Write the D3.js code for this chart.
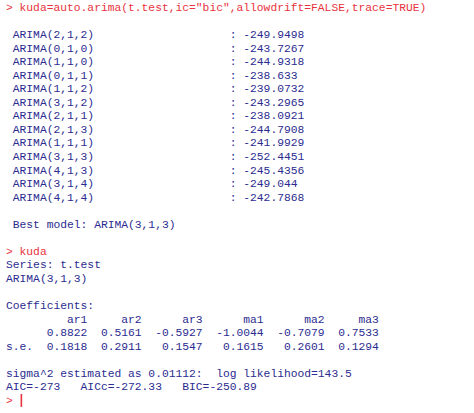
<!DOCTYPE html>
<html>
<head>
<meta charset="utf-8">
<script src="https://cdn.jsdelivr.net/npm/d3@7"></script>
<style>
  body { margin: 0; background: #fff; }
</style>
</head>
<body>
<div id="console"></div>
<script>
const width = 474;
const height = 413;

// trace output of auto.arima
const models = ["ARIMA(2,1,2)", "ARIMA(0,1,0)", "ARIMA(1,1,0)", "ARIMA(0,1,1)", "ARIMA(1,1,2)",
  "ARIMA(3,1,2)", "ARIMA(2,1,1)", "ARIMA(2,1,3)", "ARIMA(1,1,1)", "ARIMA(3,1,3)",
  "ARIMA(4,1,3)", "ARIMA(3,1,4)", "ARIMA(4,1,4)"];
const bicValues = ["-249.9498", "-243.7267", "-244.9318", "-238.633", "-239.0732",
  "-243.2965", "-238.0921", "-244.7908", "-241.9929", "-252.4451",
  "-245.4356", "-249.044", "-242.7868"];

// coefficients table
const coefNames = ["ar1", "ar2", "ar3", "ma1", "ma2", "ma3"];
const coefValues = ["0.8822", "0.5161", "-0.5927", "-1.0044", "-0.7079", "0.7533"];
const seValues = ["0.1818", "0.2911", "0.1547", "0.1615", "0.2601", "0.1294"];

const red = "#e8323c";
const blue = "#2b2b8f";

const fontSize = 11.3;
const charW = fontSize * 0.6;
const lineH = 13.55;
const marginLeft = 6;
const marginTop = 7;

const pad = (s, n) => s + " ".repeat(Math.max(0, n - s.length));
const lpad = (s, n) => " ".repeat(Math.max(0, n - s.length)) + s;

// build console lines
const lines = [];
lines.push({ t: '> kuda=auto.arima(t.test,ic="bic",allowdrift=FALSE,trace=TRUE)', c: red });
lines.push({ t: "" });
models.forEach((m, i) => lines.push({ t: pad(" " + m, 33) + ": " + bicValues[i], c: blue }));
lines.push({ t: "" });
lines.push({ t: " Best model: ARIMA(3,1,3)", c: blue });
lines.push({ t: "" });
lines.push({ t: "> kuda", c: red });
lines.push({ t: "Series: t.test", c: blue });
lines.push({ t: "ARIMA(3,1,3)", c: blue });
lines.push({ t: "" });
lines.push({ t: "Coefficients:", c: blue });
const colW = coefNames.map((n, i) => Math.max(n.length, coefValues[i].length, seValues[i].length) + 2);
lines.push({ t: "    " + coefNames.map((n, i) => lpad(n, colW[i])).join(""), c: blue });
lines.push({ t: "    " + coefValues.map((n, i) => lpad(n, colW[i])).join(""), c: blue });
lines.push({ t: "s.e." + seValues.map((n, i) => lpad(n, colW[i])).join(""), c: blue });
lines.push({ t: "" });
lines.push({ t: "sigma^2 estimated as 0.01112:  log likelihood=143.5", c: blue });
lines.push({ t: "AIC=-273   AICc=-272.33   BIC=-250.89", c: blue });
lines.push({ t: "> ", c: red });

const svg = d3.select("#console")
  .append("svg")
  .attr("width", width)
  .attr("height", height);

svg.append("rect").attr("width", width).attr("height", height).attr("fill", "#fff");

const y = d3.scaleLinear().domain([0, 1]).range([marginTop, marginTop + lineH]);

svg.selectAll("text.line")
  .data(lines)
  .enter()
  .append("text")
  .attr("class", "line")
  .attr("x", marginLeft)
  .attr("y", (d, i) => y(i))
  .attr("dy", "0.35em")
  .attr("xml:space", "preserve")
  .style("white-space", "pre")
  .style("font-family", "'Liberation Mono', 'DejaVu Sans Mono', monospace")
  .style("font-size", fontSize + "px")
  .attr("fill", d => d.c || blue)
  .text(d => d.t);

// cursor on the prompt
const last = lines.length - 1;
svg.append("rect")
  .attr("x", marginLeft + 2 * charW + 1)
  .attr("y", y(last) - 6)
  .attr("width", 1.6)
  .attr("height", 13)
  .attr("fill", red);
</script>
</body>
</html>
